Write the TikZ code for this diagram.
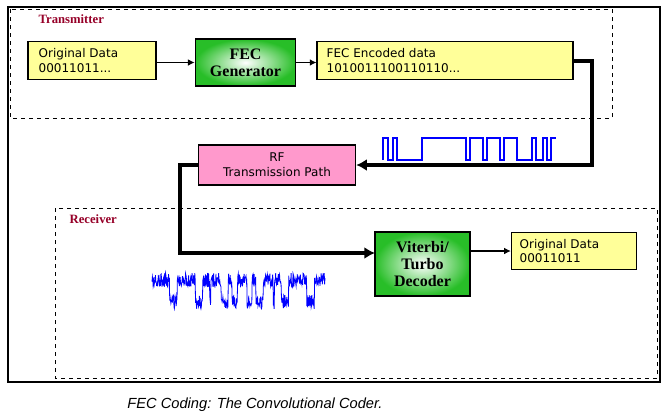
\documentclass[tikz,border=0pt]{standalone}
\usepackage{fontspec}
\setmainfont{DejaVu Sans}
\newfontfamily\boldserif{Liberation Serif}
\newfontfamily\capfont{Liberation Sans}
\usetikzlibrary{arrows.meta}
\tikzset{>=Latex}
\definecolor{boxyellow}{RGB}{255,255,153}
\definecolor{boxpink}{RGB}{255,153,204}
\definecolor{darkgreen}{RGB}{40,190,40}
\definecolor{labelred}{RGB}{150,0,40}
\tikzset{
  databox/.style={draw, thick, fill=boxyellow},
  datatext/.style={anchor=west, align=left, font=\fontsize{9}{11}\selectfont},
  codebox/.style={draw, line width=1.3pt, inner color=white, outer color=darkgreen, align=center, font=\boldserif\bfseries\fontsize{12}{13}\selectfont},
  thin link/.style={->, thick, >={Latex[length=5pt,width=5pt]}},
  thick link/.style={->, line width=3pt, >={Latex[length=8pt,width=9pt]}},
  region/.style={dashed, thin},
  region label/.style={anchor=north west, text=labelred, font=\boldserif\bfseries\fontsize{9.5}{11}\selectfont}
}
\begin{document}
\begin{tikzpicture}[x=0.75pt, y=-0.75pt]
\useasboundingbox (0,0) rectangle (663,415);
% frames
\draw[thick] (8,382) -- (8,7) -- (660,7) -- (660,382) -- cycle;
\draw[region] (10,9) rectangle (612,118);
\draw[region] (55,208) rectangle (657,378);
\node[region label] (tx) at (34,10) {Transmitter};
\node[region label] (rx) at (65,210) {Receiver};
% transmitter
\node[databox, minimum width=96pt, minimum height=29pt] (orig) at (92,60.5) {};
\node[datatext] at (34,60.5) {Original Data\\00011011...};
\node[codebox, minimum width=75pt, minimum height=35pt] (fec) at (245.5,62.5) {FEC\\Generator};
\node[databox, minimum width=192pt, minimum height=29pt] (enc) at (445,60.5) {};
\node[datatext] at (322,60.5) {FEC Encoded data\\1010011100110110...};
\draw[thin link] (orig.east |- fec.west) -- (fec.west);
\draw[thin link] (fec.east) -- (enc.west |- fec.east);
% channel
\node[draw, thick, fill=boxpink, minimum width=118pt, minimum height=30pt, align=center, font=\fontsize{9}{11}\selectfont] (rf) at (277,165) {RF\\Transmission Path};
\coordinate (c1) at (592,60.5);
\coordinate (c2) at (180,253);
\draw[thick link] (enc.east) -- (c1) |- (rf.east);
\draw[thick link] (rf.west) -| (c2) -- (375,253);
\draw[blue, thick] (383,160) -- (383,138) -- (388,138) -- (388,160) -- (393,160) -- (393,138) -- (397,138) -- (397,160)
  -- (422,160) -- (422,138) -- (466,138) -- (466,160) -- (470,160) -- (470,138) -- (483,138) -- (483,160)
  -- (487,160) -- (487,138) -- (500,138) -- (500,160) -- (504,160) -- (504,138) -- (517,138) -- (517,160)
  -- (532,160) -- (532,138) -- (536,138) -- (536,160) -- (543,160) -- (543,138) -- (547,138) -- (547,160)
  -- (551,160) -- (551,138) -- (556,138);
% receiver
\node[codebox, minimum width=71pt, minimum height=48pt] (vit) at (422.5,264) {Viterbi/\\Turbo\\Decoder};
\node[databox, minimum width=94pt, minimum height=28pt] (out) at (574,251) {};
\node[datatext] at (515,251) {Original Data\\00011011};
\draw[thin link] (vit.east |- out.west) -- (out.west);
\pgfmathsetseed{7}
\draw[blue, line width=0.6pt] plot[domain=152:325, samples=450]
  (\x, {291 - 11*sign(sin(13*(\x-152)) + sin(29*(\x-152))+0.3) + 7*rand});
% caption
\node[font=\capfont\itshape\fontsize{11}{13}\selectfont] (cap) at (255,405) {FEC Coding: The Convolutional Coder.};
\end{tikzpicture}
\end{document}
